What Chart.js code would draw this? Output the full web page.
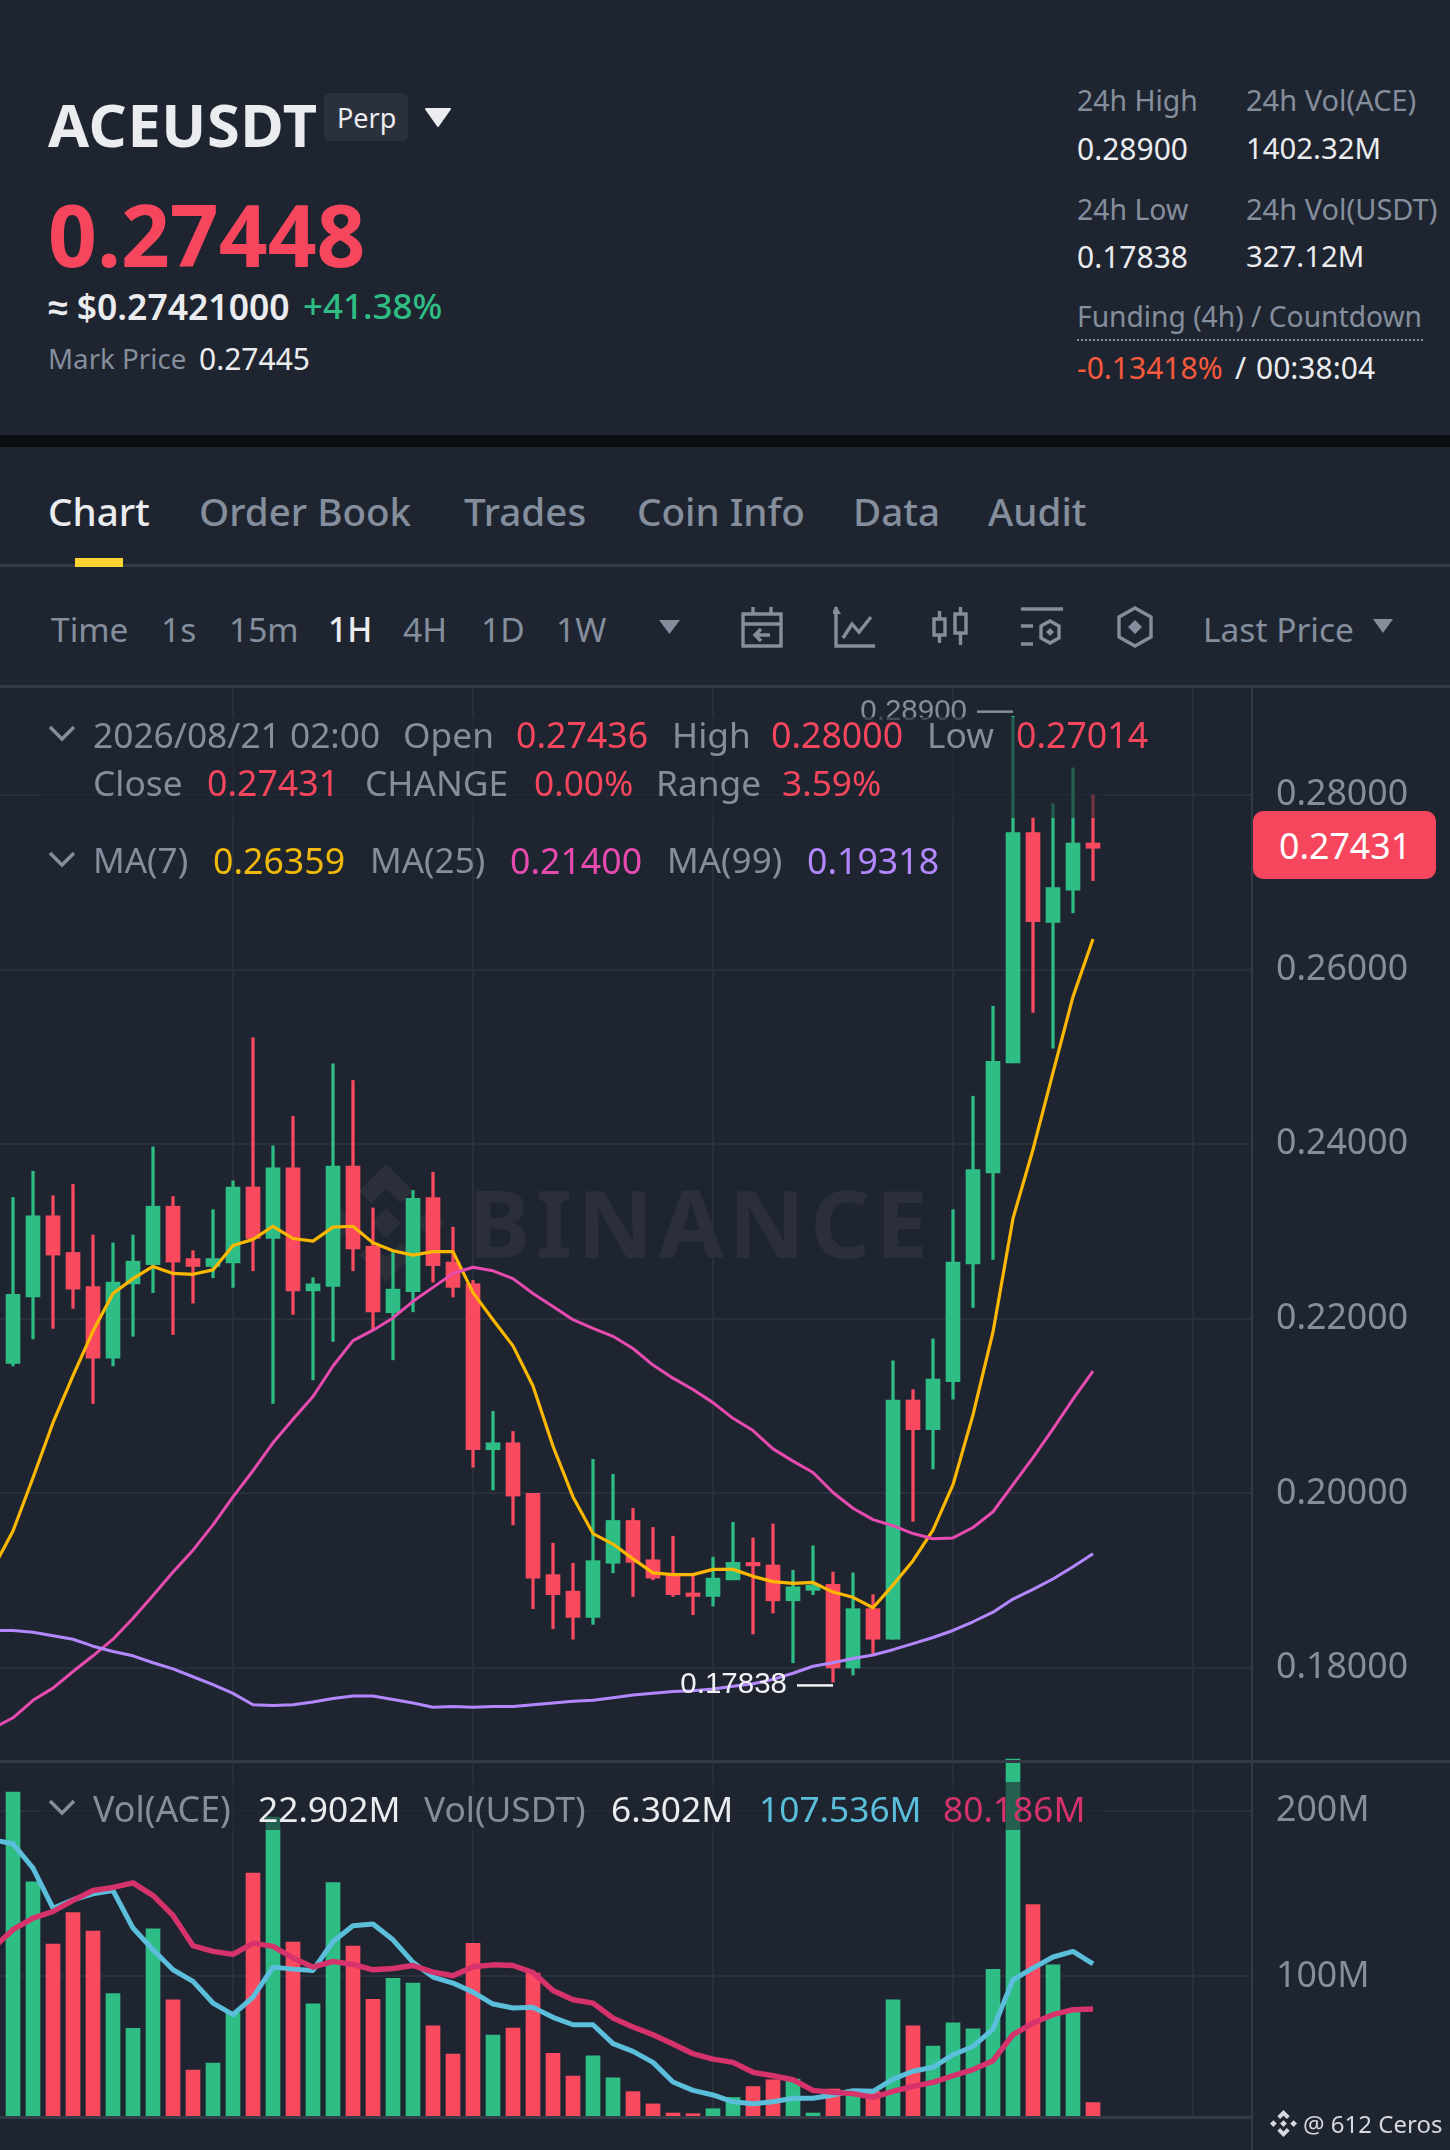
<!DOCTYPE html>
<html><head><meta charset="utf-8">
<script src="https://cdn.jsdelivr.net/npm/chart.js@4/dist/chart.umd.min.js"></script>
<style>
html,body{margin:0;padding:0;background:#1f2530;width:1450px;height:2150px;overflow:hidden;font-family:"Noto Sans",sans-serif}
.t{position:absolute;white-space:nowrap;transform:translateY(-50%);line-height:1.2}
.g{color:#848e9c}.w{color:#eaecef}.r{color:#f6465d}.gn{color:#2ebd85}
.h{font-size:28.4px}.l{font-size:35.3px}.v{font-size:35.7px}.tab{font-size:38.6px;font-weight:500}.tf{font-size:33.5px}
.b{position:absolute;background:#333a46}
canvas{position:absolute;left:0}
svg{position:absolute}
.ov{position:absolute;background:rgba(31,37,48,.62)}
</style></head><body>
<svg style="left:327px;top:1163px" width="118" height="120" viewBox="0 0 24 24" fill="#2a2f3a"><path d="M12 0 L17.5 5.5 L15 8 L12 5 L9 8 L6.5 5.5Z M12 24 L17.5 18.5 L15 16 L12 19 L9 16 L6.5 18.5Z M12 9 L15 12 L12 15 L9 12Z M0 12 L3 9 L6 12 L3 15Z M24 12 L21 9 L18 12 L21 15Z"/></svg>
<div class="t" style="left:468px;top:1222px;font-size:94px;font-weight:700;color:#2a2f3a;letter-spacing:5px">BINANCE</div>

<canvas id="priceCanvas" style="top:687px" width="1450" height="1074"></canvas>
<canvas id="volCanvas" style="top:1755px" width="1450" height="362"></canvas>
<div class="ov" style="left:40px;top:717px;width:1065px;height:101px"></div>
<div class="ov" style="left:40px;top:1782px;width:1065px;height:48px"></div>

<div class="t" style="left:48px;top:124px;font-size:59.5px;font-weight:700;color:#eaecef;letter-spacing:.6px">ACEUSDT</div>
<div style="position:absolute;left:324px;top:93px;width:84px;height:48px;background:#2b313c;border-radius:6px"></div>
<div class="t w" style="left:337px;top:118px;font-size:27px">Perp</div>
<svg style="left:424px;top:108px" width="28" height="19" viewBox="0 0 28 19"><path d="M2 1H26L14 18Z" fill="#eaecef" stroke="#eaecef" stroke-width="2" stroke-linejoin="round"/></svg>
<div class="t r" style="left:48px;top:234px;font-size:85.5px;font-weight:700">0.27448</div>
<div class="t w" style="left:48px;top:306px;font-size:35.5px;font-weight:600">≈ $0.27421000</div>
<div class="t gn" style="left:303px;top:306px;font-size:35px;font-weight:500">+41.38%</div>
<div class="t g" style="left:48px;top:359px;font-size:27.7px">Mark Price</div>
<div class="t w" style="left:199px;top:359px;font-size:30px">0.27445</div>

<div class="t g h" style="left:1077px;top:100px">24h High</div>
<div class="t g" style="left:1246px;top:100px;font-size:29px">24h Vol(ACE)</div>
<div class="t w h" style="left:1077px;top:149px;font-size:30px">0.28900</div>
<div class="t w h" style="left:1246px;top:149px;font-size:29.3px">1402.32M</div>
<div class="t g h" style="left:1077px;top:209px">24h Low</div>
<div class="t g" style="left:1246px;top:209px;font-size:29px">24h Vol(USDT)</div>
<div class="t w h" style="left:1077px;top:257px;font-size:30px">0.17838</div>
<div class="t w h" style="left:1246px;top:257px;font-size:29.3px">327.12M</div>
<div class="t g h" style="left:1077px;top:317px;font-size:28.2px">Funding (4h) / Countdown</div>
<div style="position:absolute;left:1077px;top:339px;width:346px;border-top:2px dotted #848e9c"></div>
<div class="t h" style="left:1077px;top:368px;font-size:30px;color:#f6593c">-0.13418%</div>
<div class="t w h" style="left:1235px;top:368px;font-size:30px">/</div>
<div class="t w h" style="left:1256px;top:368px;font-size:30px">00:38:04</div>

<div style="position:absolute;left:0;top:435px;width:1450px;height:12px;background:#0b0e11"></div>
<div class="t w tab" style="left:48px;top:511px">Chart</div>
<div class="t g tab" style="left:199px;top:511px">Order Book</div>
<div class="t g tab" style="left:464px;top:511px">Trades</div>
<div class="t g tab" style="left:637px;top:511px">Coin Info</div>
<div class="t g tab" style="left:853px;top:511px">Data</div>
<div class="t g tab" style="left:988px;top:511px">Audit</div>
<div class="b" style="left:0;top:564px;width:1450px;height:3px"></div>
<div style="position:absolute;left:75px;top:558px;width:48px;height:9px;background:#fcd535"></div>

<div class="t g tf" style="left:51px;top:629px">Time</div>
<div class="t g tf" style="left:161px;top:629px">1s</div>
<div class="t g tf" style="left:229px;top:629px">15m</div>
<div class="t w tf" style="left:328px;top:629px;font-weight:500">1H</div>
<div class="t g tf" style="left:403px;top:629px">4H</div>
<div class="t g tf" style="left:481px;top:629px">1D</div>
<div class="t g tf" style="left:556px;top:629px">1W</div>
<svg style="left:658px;top:619px" width="23" height="16" viewBox="0 0 23 16"><path d="M1 1H22L11.5 15Z" fill="#848e9c"/></svg>
<svg style="left:740px;top:605px" width="44" height="44" viewBox="0 0 44 44" fill="none" stroke="#848e9c" stroke-width="3.4"><path d="M3 9H41V41H3Z M3 19H41 M13 2V9 M31 2V9 M30 30H15 M21 24L15 30L21 36"/></svg>
<svg style="left:833px;top:605px" width="44" height="44" viewBox="0 0 44 44" fill="none" stroke="#848e9c" stroke-width="3.4"><path d="M3 2V41H42 M10 33L19 19L26 27L38 12"/><path d="M3 1L-2 9H8Z" fill="#848e9c" stroke="none"/></svg>
<svg style="left:930px;top:605px" width="40" height="44" viewBox="0 0 40 44" fill="none" stroke="#848e9c" stroke-width="3.4"><path d="M4 14H15V30H4Z M25 9H36V28H25Z M9.5 6V14 M9.5 30V38 M30.5 2V9 M30.5 28V40"/></svg>
<svg style="left:1019px;top:605px" width="46" height="44" viewBox="0 0 46 44" fill="none" stroke="#848e9c" stroke-width="3.4"><path d="M2 4H44 M2 21H14 M2 39H14 M31 16L40 21V33L31 38L22 33V21Z"/><path d="M31 23L35 27L31 31L27 27Z" fill="#848e9c" stroke="none"/></svg>
<svg style="left:1115px;top:605px" width="40" height="44" viewBox="0 0 40 44" fill="none" stroke="#848e9c" stroke-width="3.4"><path d="M20 3L36 12V32L20 41L4 32V12Z"/><path d="M20 15L27 22L20 29L13 22Z" fill="#848e9c" stroke="none"/></svg>
<div class="t g tf" style="left:1203px;top:629px">Last Price</div>
<svg style="left:1373px;top:619px" width="20" height="14" viewBox="0 0 20 14"><path d="M0 0H20L10 14Z" fill="#848e9c"/></svg>

<div class="b" style="left:0;top:685px;width:1450px;height:3px"></div>
<div class="b" style="left:1251px;top:687px;width:2px;height:1463px"></div>
<div class="b" style="left:0;top:1760px;width:1450px;height:3px"></div>
<div class="b" style="left:0;top:2116px;width:1253px;height:3px"></div>

<svg style="left:48px;top:725px" width="28" height="17" viewBox="0 0 28 17" fill="none" stroke="#848e9c" stroke-width="3.4"><path d="M2 2L14 14L26 2"/></svg>
<div class="t g l" style="left:93px;top:734px">2026/08/21 02:00</div>
<div class="t g l" style="left:403px;top:734px">Open</div>
<div class="t r v" style="left:516px;top:734px">0.27436</div>
<div class="t g l" style="left:672px;top:734px">High</div>
<div class="t r v" style="left:771px;top:734px">0.28000</div>
<div class="t g l" style="left:927px;top:734px">Low</div>
<div class="t r v" style="left:1016px;top:734px">0.27014</div>
<div class="t g l" style="left:93px;top:782px">Close</div>
<div class="t r v" style="left:207px;top:782px">0.27431</div>
<div class="t g l" style="left:365px;top:782px">CHANGE</div>
<div class="t r l" style="left:534px;top:782px">0.00%</div>
<div class="t g l" style="left:656px;top:782px">Range</div>
<div class="t r l" style="left:782px;top:782px">3.59%</div>
<svg style="left:48px;top:851px" width="28" height="17" viewBox="0 0 28 17" fill="none" stroke="#848e9c" stroke-width="3.4"><path d="M2 2L14 14L26 2"/></svg>
<div class="t g" style="left:93px;top:860px;font-size:35px">MA(7)</div>
<div class="t v" style="left:213px;top:860px;color:#f0b90b">0.26359</div>
<div class="t g" style="left:370px;top:860px;font-size:35px">MA(25)</div>
<div class="t v" style="left:510px;top:860px;color:#e84bb0">0.21400</div>
<div class="t g" style="left:667px;top:860px;font-size:35px">MA(99)</div>
<div class="t v" style="left:807px;top:860px;color:#b388ff">0.19318</div>
<div style="position:absolute;left:1253px;top:811px;width:183px;height:68px;background:#f6465d;border-radius:10px"></div>
<div class="t" style="left:1279px;top:845px;font-size:35.7px;color:#fff">0.27431</div>

<svg style="left:48px;top:1799px" width="28" height="17" viewBox="0 0 28 17" fill="none" stroke="#848e9c" stroke-width="3.4"><path d="M2 2L14 14L26 2"/></svg>
<div class="t g l" style="left:93px;top:1808px;font-size:35.8px">Vol(ACE)</div>
<div class="t w l" style="left:258px;top:1808px">22.902M</div>
<div class="t g l" style="left:424px;top:1808px">Vol(USDT)</div>
<div class="t w l" style="left:611px;top:1808px">6.302M</div>
<div class="t l" style="left:759px;top:1808px;color:#5bbfdb">107.536M</div>
<div class="t l" style="left:943px;top:1808px;color:#d6336c">80.186M</div>
<svg style="left:1270px;top:2110px" width="27" height="27" viewBox="0 0 24 24" fill="#d5d8dc"><path d="M12 0 L17.5 5.5 L15 8 L12 5 L9 8 L6.5 5.5Z M12 24 L17.5 18.5 L15 16 L12 19 L9 16 L6.5 18.5Z M12 9 L15 12 L12 15 L9 12Z M0 12 L3 9 L6 12 L3 15Z M24 12 L21 9 L18 12 L21 15Z"/></svg>
<div class="t" style="left:1303px;top:2124px;font-size:24px;color:#d5d8dc">@ 612 Ceros</div>

<script>
const candleOpen=[.2149,.2225,.2318,.2276,.2237,.2155,.2240,.2262,.2329,.2269,.2260,.2264,.2351,.2292,.2373,.2232,.2237,.2375,.2283,.2207,.2231,.2339,.2265,.2240,.2050,.2058,.2000,.1907,.1888,.1858,.1920,.1969,.1924,.1908,.1886,.1882,.1901,.1921,.1918,.1877,.1889,.1896,.1800,.1868,.1833,.2107,.2073,.2128,.2263,.2367,.2493,.2757,.2654,.2691,.2745];
const candleHigh=[.2339,.2369,.2341,.2354,.2296,.2287,.2296,.2397,.2340,.2278,.2325,.2358,.2522,.2398,.2432,.2247,.2492,.2473,.2327,.2276,.2347,.2368,.2305,.2244,.2094,.2071,.2000,.1943,.1920,.2039,.2022,.1983,.1961,.1951,.1907,.1927,.1967,.1949,.1965,.1912,.1940,.1910,.1909,.1884,.2152,.2119,.2177,.2325,.2455,.2558,.2890,.2774,.2790,.2831,.2800];
const candleLow=[.2146,.2177,.2189,.2212,.2103,.2146,.2180,.2230,.2182,.2218,.2247,.2236,.2255,.2103,.2205,.2130,.2174,.2255,.2187,.2153,.2208,.2242,.2225,.2030,.2004,.1964,.1868,.1845,.1833,.1850,.1909,.1882,.1901,.1882,.1861,.1871,.1901,.1839,.1863,.1806,.1884,.17838,.1792,.1814,.1833,.1968,.2028,.2108,.2213,.2268,.2493,.2551,.2510,.2665,.2702];
const candleClose=[.2228,.2318,.2273,.2234,.2155,.2242,.2266,.2329,.2265,.2260,.2269,.2351,.2292,.2373,.2232,.2240,.2375,.2280,.2208,.2234,.2338,.2261,.2236,.2050,.2058,.1997,.1903,.1884,.1858,.1923,.1969,.1921,.1903,.1884,.1882,.1903,.1921,.1917,.1877,.1893,.1895,.1800,.1868,.1833,.2107,.2073,.2131,.2265,.2371,.2495,.2757,.2655,.2694,.2745,.2739];
// moving averages start one candle left of the first visible candle
const ma7=[.1914,.1957,.2018,.2081,.2135,.2186,.2229,.2246,.2260,.2252,.2251,.2256,.2284,.2291,.2306,.2292,.2289,.2305,.2306,.2287,.2278,.2273,.2277,.2277,.2230,.2199,.2169,.2123,.2054,.1996,.1954,.1942,.1925,.1909,.1907,.1907,.1913,.1913,.1905,.1899,.1897,.1898,.1887,.1881,.1869,.1895,.1923,.1958,.2010,.2090,.2185,.2315,.2394,.2482,.2569,.2635];
const ma25=[.1731,.1743,.1763,.1777,.1796,.1814,.1833,.1857,.1883,.1910,.1935,.1964,.1996,.2026,.2058,.2085,.2111,.2146,.2175,.2187,.2201,.2220,.2236,.2252,.2259,.2255,.2246,.2229,.2214,.2199,.2189,.2180,.2166,.2147,.2132,.2119,.2104,.2086,.2072,.2051,.2037,.2024,.2001,.1983,.1970,.1963,.1954,.1948,.1949,.1961,.1979,.2010,.2041,.2074,.2108,.2140];
const ma99=[.1843,.1843,.1841,.1837,.1833,.1825,.1819,.1814,.1806,.1799,.1790,.1781,.1771,.1758,.1757,.1758,.1761,.1765,.1768,.1768,.1764,.1760,.1755,.1756,.1755,.1756,.1756,.1758,.1760,.1762,.1763,.1766,.1769,.1771,.1773,.1774,.1776,.1779,.1782,.1787,.1794,.1802,.1806,.1811,.1815,.1821,.1828,.1835,.1843,.1853,.1864,.1879,.1890,.1902,.1916,.1931];
const volume=[211.3,157.1,119.5,138.6,127.4,89.7,68.6,128.8,85.9,43.5,47.7,77.9,162.4,196.2,120.7,83.5,156.7,118.3,86.1,98.8,96.0,70.2,53.1,119.9,64.6,68.8,102.0,53.5,39.8,52.1,38.8,30.4,23.0,17.5,17.1,20.1,26.9,33.5,37.6,38.0,17.5,32.0,31.6,30.6,85.9,70.2,57.9,72.0,68.4,104.2,231.2,143.3,107.0,79.9,23.8];
const volMaFast=[182.5,180.1,165.4,141.2,146.3,149.9,151.9,129.2,116.1,104.0,97.0,83.9,76.9,87.5,105.6,104.4,103.6,121.1,130.6,131.6,122.1,108.5,99.6,96.0,90.5,83.3,80.9,81.3,75.3,70.8,70.8,59.4,54.7,48.1,36.2,31.2,28.4,24.3,23.1,24.3,26.4,26.4,28.4,31.0,30.6,38.0,42.7,45.1,52.7,57.7,68.2,98.0,105.0,111.7,115.1,107.6];
const volMaSlow=[117.1,128.2,135.2,139.2,145.9,151.9,153.7,156.5,148.9,136.8,118.5,115.1,113.3,120.1,118.1,111.1,105.6,109.1,107.2,104.0,104.8,106.6,102.6,100.4,105.8,107.0,106.6,102.4,91.5,85.9,83.9,74.8,69.4,64.8,59.2,53.3,50.1,48.1,42.1,40.0,37.6,31.2,30.0,29.2,27.0,30.6,33.6,36.0,40.0,43.7,49.1,64.8,71.8,76.9,79.9,80.3];
const priceTicks=[.18,.20,.22,.24,.26,.28];
const volTicks=[100,200];
const gridCandles=[-1,11,23,35,47,59];
const highMark=0.289, lowMark=0.17838, highIdx=50, lowIdx=41;

const GREEN='#2ebd85',RED='#f94a60',GRID='#2a303b',AXIS='#848e9c';
const isUp=i=>candleClose[i]>=candleOpen[i];
const candleColor=ctx=>isUp(ctx.dataIndex)?GREEN:RED;
const xMin=-0.65,xMax=61.95;
const xScale=()=>({type:'linear',min:xMin,max:xMax,offset:false,
  afterBuildTicks:s=>{s.ticks=gridCandles.map(v=>({value:v}))},
  ticks:{display:false},border:{display:false},
  grid:{color:GRID,lineWidth:2,drawTicks:false,offset:false}});
const yScale=(min,max,vals,fmt)=>({type:'linear',position:'right',min,max,
  afterBuildTicks:s=>{s.ticks=vals.map(v=>({value:v}))},
  afterFit:s=>{s.width=198;s.paddingTop=0;s.paddingBottom=0},
  border:{display:false},
  grid:{color:GRID,lineWidth:2,drawTicks:false},
  ticks:{color:AXIS,padding:24,font:{family:'"Noto Sans"',size:35.7},callback:fmt,autoSkip:false}});
const line=(data,color,width,order)=>({type:'line',data:data.map((y,k)=>({x:k-1,y})),borderColor:color,borderWidth:width,pointRadius:0,tension:0,order,borderJoinStyle:'round'});
const base={animation:false,responsive:false,layout:{padding:0,autoPadding:false},plugins:{legend:{display:false},tooltip:{enabled:false}},events:[]};

const markers={id:'markers',afterDatasetsDraw(c){
  const g=c.ctx,x=c.scales.x,y=c.scales.y;
  g.save();g.font='29.5px "Liberation Sans"';g.textBaseline='middle';g.textAlign='right';
  const hx=x.getPixelForValue(highIdx),hy=y.getPixelForValue(highMark)-5;
  g.fillStyle='#848e9c';g.fillText(highMark.toFixed(5),hx-46,hy);
  g.fillRect(hx-36,hy-1,36,2.5);
  const lx=x.getPixelForValue(lowIdx),ly=y.getPixelForValue(lowMark)+3;
  g.fillStyle='#f0f2f4';g.fillText(lowMark.toFixed(5),lx-46,ly);
  g.fillRect(lx-36,ly-1,36,2.5);
  g.restore();
}};

new Chart(document.getElementById('priceCanvas'),{
  type:'bar',
  data:{datasets:[
    line(ma99,'#b388ff',3,1),
    line(ma25,'#e84bb0',3,2),
    line(ma7,'#fcb800',3.2,3),
    {data:candleOpen.map((o,i)=>({x:i,y:[o,candleClose[i]]})),backgroundColor:candleColor,barThickness:14,grouped:false,borderWidth:0,borderSkipped:false,order:10},
    {data:candleHigh.map((h,i)=>({x:i,y:[candleLow[i],h]})),backgroundColor:candleColor,barThickness:2.6,grouped:false,borderWidth:0,borderSkipped:false,order:11}
  ]},
  options:{...base,scales:{x:xScale(),y:yScale(0.16935,0.29237,priceTicks,v=>v.toFixed(5))}},
  plugins:[markers]
});
new Chart(document.getElementById('volCanvas'),{
  type:'bar',
  data:{datasets:[
    line(volMaSlow,'#d6336c',5.4,1),
    line(volMaFast,'#5bbfdb',5,2),
    {data:volume.map((v,i)=>({x:i,y:v})),backgroundColor:candleColor,barThickness:14,grouped:false,borderWidth:0,order:10}
  ]},
  options:{...base,scales:{x:xScale(),y:yScale(15.1,233.7,volTicks,v=>v+'M')}}
});
</script>
</body></html>
